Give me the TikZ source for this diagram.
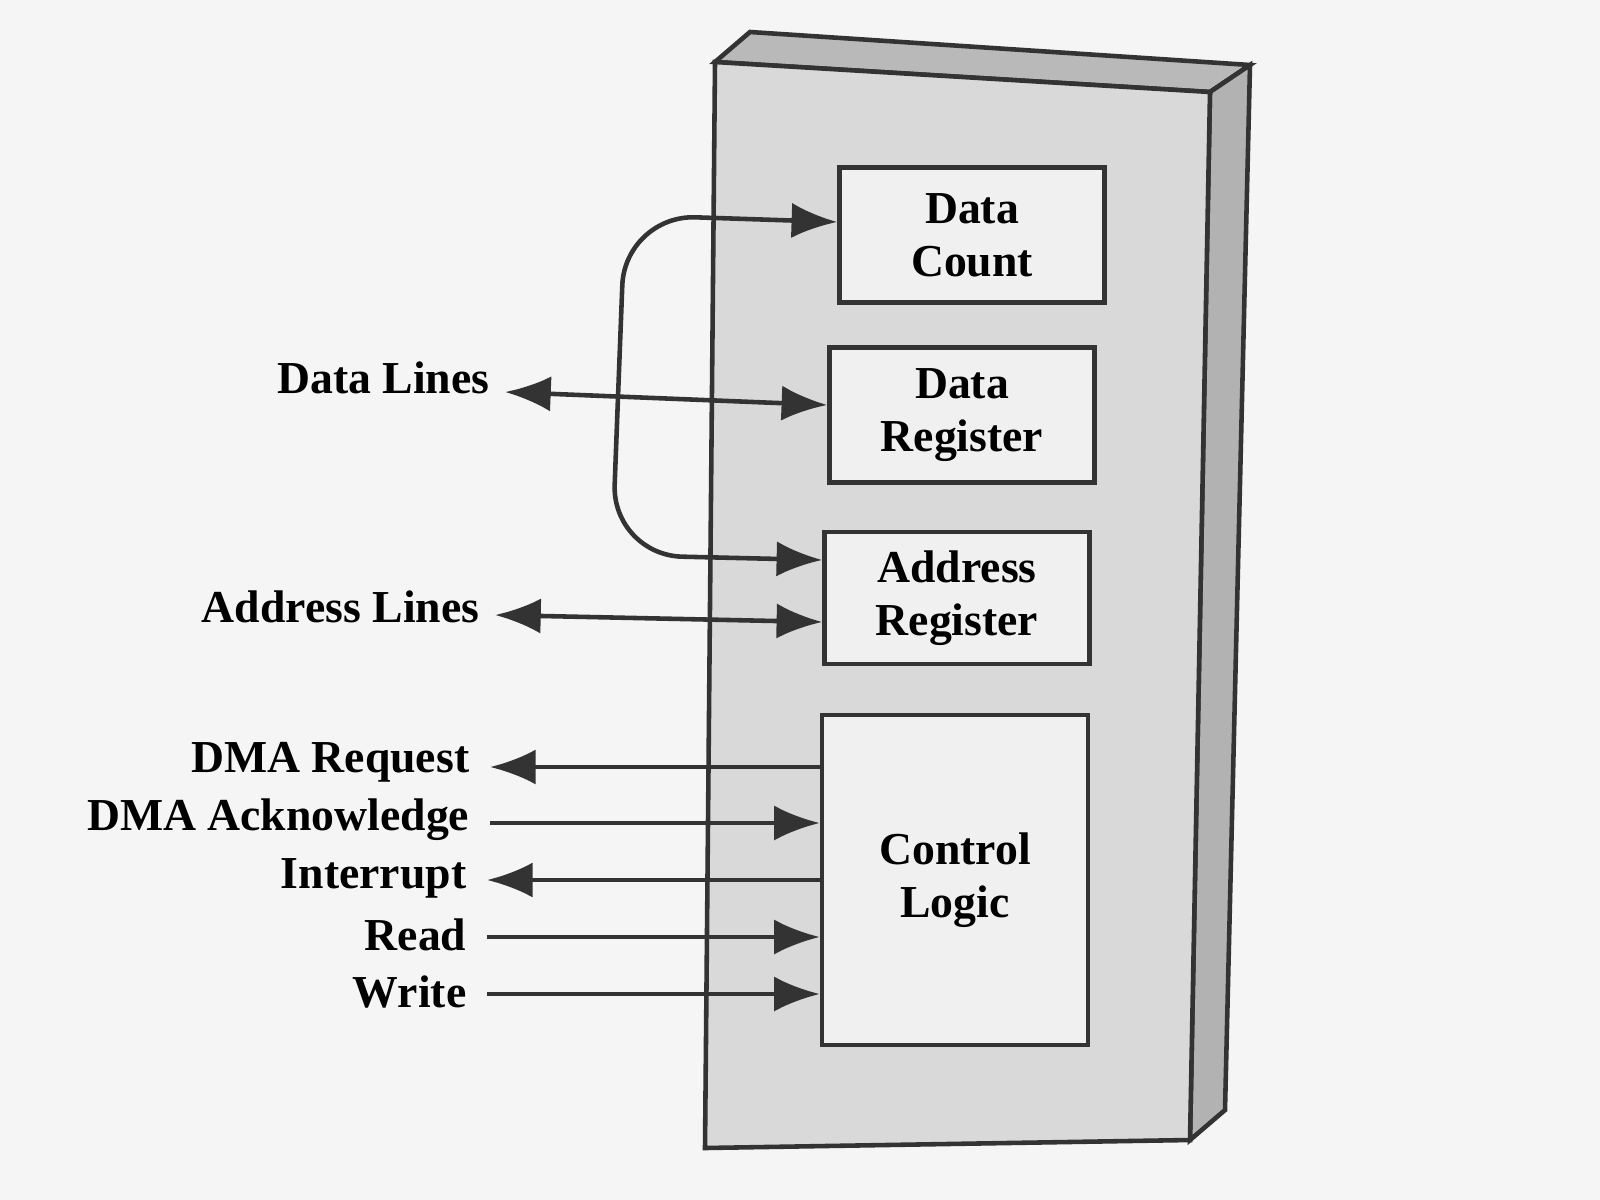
\documentclass[tikz,border=0pt]{standalone}
\usepackage{fontspec}
\setmainfont{Liberation Serif}
\usetikzlibrary{arrows.meta}
\begin{document}
\begin{tikzpicture}[x=0.01cm,y=-0.01cm,
  reg/.style={draw=black!80,line width=1.2pt,fill=gray!12,align=center,font=\fontsize{13}{15}\selectfont\bfseries,inner sep=0pt},
  lab/.style={anchor=east,font=\fontsize{13}{15}\selectfont\bfseries,inner sep=0pt},
  arr/.style={draw=black!80,line width=1.3pt,-{Latex[length=13pt,width=10pt]}},
  darr/.style={draw=black!80,line width=1.3pt,{Latex[length=13pt,width=10pt]}-{Latex[length=13pt,width=10pt]}}]
\fill[gray!8] (0,0) rectangle (1600,1200);
\useasboundingbox (0,0) rectangle (1600,1200);
% 3D box
\filldraw[draw=black!80,line width=1.3pt,fill=gray!55] (715,62) -- (750,32) -- (1250,65) -- (1210,92) -- cycle;
\filldraw[draw=black!80,line width=1.3pt,fill=gray!60] (1210,92) -- (1250,65) -- (1225,1110) -- (1190,1140) -- cycle;
\filldraw[draw=black!80,line width=1.3pt,fill=gray!30] (715,62) -- (1210,92) -- (1190,1140) -- (705,1148) -- cycle;
% registers
\node[reg,minimum width=2.65cm,minimum height=1.35cm] (dc) at (972,235) {Data\\Count};
\node[reg,minimum width=2.65cm,minimum height=1.35cm] (dr) at (962,415) {Data\\Register};
\node[reg,minimum width=2.65cm,minimum height=1.32cm] (ar) at (957,598) {Address\\Register};
\node[reg,minimum width=2.66cm,minimum height=3.3cm] (cl) at (955,880) {Control\\Logic};
% labels
\node[lab] (dl) at (490,378) {Data Lines};
\node[lab] (al) at (480,607) {Address Lines};
\node[lab] (rq) at (470,762) {DMA Request};
\node[lab] (ak) at (470,820) {DMA Acknowledge};
\node[lab] (it) at (467,878) {Interrupt};
\node[lab] (rd) at (467,935) {Read};
\node[lab] (wr) at (467,992) {Write};
% connectors
\coordinate (j) at (618,397);
\coordinate (dle) at (505,392);
\coordinate (ale) at (495,615);
\draw[darr] (dle) -- (dr.west|-0,405);
\draw[arr,rounded corners=20pt] (j) -- (625,215) -- (dc.west|-0,222);
\draw[arr,rounded corners=20pt] (j) -- (612,555) -- (ar.west|-0,560);
\draw[darr] (ale) -- (ar.west|-0,622);
\draw[arr] (cl.west|-0,767) -- (490,767);
\draw[arr] (490,823) -- (cl.west|-0,823);
\draw[arr] (cl.west|-0,880) -- (487,880);
\draw[arr] (487,937) -- (cl.west|-0,937);
\draw[arr] (487,994) -- (cl.west|-0,994);
\end{tikzpicture}
\end{document}
